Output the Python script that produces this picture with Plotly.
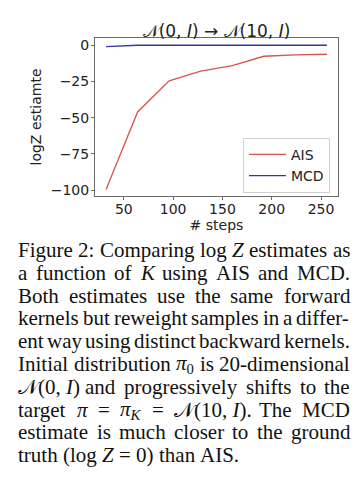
import re
import plotly.graph_objects as go

# ---------------- data ----------------
steps = [32, 64, 96, 128, 160, 192, 224, 256]
ais_logz = [-99.5, -46.0, -24.5, -17.8, -14.0, -7.6, -6.7, -6.2]
mcd_logz = [-1.0, 0.0, 0.0, 0.0, 0.0, 0.0, 0.0, 0.0]
x_tick_vals = [50, 100, 150, 200, 250]
y_tick_vals = [0, -25, -50, -75, -100]
y_tick_text = ["0", "\u221225", "\u221250", "\u221275", "\u2212100"]

title_text = "\U0001D4A9(0, <i>I</i>) \u2192 \U0001D4A9(10, <i>I</i>)"
x_label = "# steps"
y_label = "logZ estiamte"

caption_lines = [
    ["Figure", "2:", "Comparing", "log", "<i>Z</i>", "estimates", "as"],
    ["a", "function", "of", "<i>K</i>", "using", "AIS", "and", "MCD."],
    ["Both", "estimates", "use", "the", "same", "forward"],
    ["kernels", "but", "reweight", "samples", "in", "a", "differ-"],
    ["ent", "way", "using", "distinct", "backward", "kernels."],
    ["Initial", "distribution", "<i>\u03c0</i><sub>0</sub>", "is", "20-dimensional"],
    ["\U0001D4A9(0, <i>I</i>)", "and", "progressively", "shifts", "to", "the"],
    ["target", "<i>\u03c0</i>", "=", "<i>\u03c0</i><sub><i>K</i></sub>", "=",
     "\U0001D4A9(10, <i>I</i>).", "The", "MCD"],
    ["estimate", "is", "much", "closer", "to", "the", "ground"],
    ["truth", "(log", "<i>Z</i>", "=", "0)", "than", "AIS."],
]

# ---------------- layout constants ----------------
W, H = 364, 487
ML, MR, MT, MB = 95, 26, 38, 291
PW, PH = W - ML - MR, H - MT - MB

RED = "#d4544f"
BLUE = "#3535a8"
AX = "#6a6a6a"

REG = {" ": 250, "(": 333, ")": 333, ",": 250, "-": 333, ".": 250, ":": 278, "=": 564,
       "\u03c0": 530, "\U0001D4A9": 800}
for c in "0123456789":
    REG[c] = 500
REG.update(dict(zip("ABCDEFGHIJKLMNOPQRSTUVWXYZ",
                    [722, 667, 667, 722, 611, 556, 722, 722, 333, 389, 722, 611, 889,
                     722, 722, 556, 722, 667, 556, 611, 722, 722, 944, 722, 722, 611])))
REG.update(dict(zip("abcdefghijklmnopqrstuvwxyz",
                    [444, 500, 444, 500, 444, 333, 500, 500, 278, 278, 500, 278, 778,
                     500, 500, 500, 500, 333, 389, 278, 500, 500, 722, 500, 500, 444])))
ITAL = {"I": 333, "K": 667, "Z": 556, "\u03c0": 530}


def tok_width(tok, fs):
    w = 0.0
    italic = sub = False
    for part in re.split(r"(<[^>]+>)", tok):
        if part.startswith("<"):
            tag = part.strip("<>/")
            on = not part.startswith("</")
            if tag == "i":
                italic = on
            elif tag == "sub":
                sub = on
            continue
        for ch in part:
            cw = (ITAL.get(ch) if italic else None) or REG.get(ch, 500)
            w += cw * (0.7 if sub else 1.0)
    return w * fs / 1000.0


fig = go.Figure()
fig.add_trace(go.Scatter(x=steps, y=ais_logz, mode="lines", name="AIS",
                         line=dict(color=RED, width=1.3)))
fig.add_trace(go.Scatter(x=steps, y=mcd_logz, mode="lines", name="MCD",
                         line=dict(color=BLUE, width=1.3)))

axis_common = dict(showgrid=False, zeroline=False, showline=True, linecolor=AX,
                   linewidth=1, mirror=True, ticks="outside", ticklen=3, tickcolor=AX,
                   automargin=False,
                   tickfont=dict(family="DejaVu Sans", size=14, color="#222"),
                   title_font=dict(family="DejaVu Sans", size=14, color="#222"))

fig.update_xaxes(range=[20.8, 267.2], tickvals=x_tick_vals, ticklabelstandoff=-3,
                 title=dict(text=x_label, standoff=1), **axis_common)
fig.update_yaxes(range=[-104.0, 5.0], tickvals=y_tick_vals, ticktext=y_tick_text,
                 ticklabelstandoff=-1,
                 title=dict(text=y_label, standoff=5), **axis_common)

# caption, justified word by word
FS = 21
LEFT, RIGHT = 17.3, 349.0
BASE0, STEP = 250.0, 22.8
annotations = []
for k, toks in enumerate(caption_lines):
    py = BASE0 + STEP * k
    yp = (MT + PH - py) / PH
    widths = [tok_width(t, FS) for t in toks]
    last = k == len(caption_lines) - 1
    gap = FS * 0.25 if last else (RIGHT - LEFT - sum(widths)) / (len(toks) - 1)
    x = LEFT
    for t, w in zip(toks, widths):
        annotations.append(dict(
            text=t, x=(x - ML) / PW, y=yp, xref="paper", yref="paper",
            xanchor="left", yanchor="middle", showarrow=False, borderpad=0,
            font=dict(family="Liberation Serif", size=FS, color="#111")))
        x += w + gap

fig.update_layout(
    width=W, height=H,
    margin=dict(l=ML, r=MR, t=MT, b=MB, autoexpand=False),
    paper_bgcolor="white", plot_bgcolor="white",
    title=dict(text=title_text, xref="paper", x=0.5, xanchor="center",
               yref="paper", y=1, yanchor="bottom", pad=dict(b=1),
               font=dict(family="DejaVu Sans", size=17, color="#222")),
    legend=dict(x=0.967, xanchor="right", y=0.02, yanchor="bottom",
                bgcolor="white", bordercolor="#d0d0d0", borderwidth=1,
                font=dict(family="DejaVu Sans", size=14, color="#222"),
                itemwidth=37),
    showlegend=True,
    annotations=annotations,
)

fig.write_html("out.html", config={"displayModeBar": False},
               post_script="document.body.style.margin='0';"
                           "document.body.style.overflow='hidden';")
